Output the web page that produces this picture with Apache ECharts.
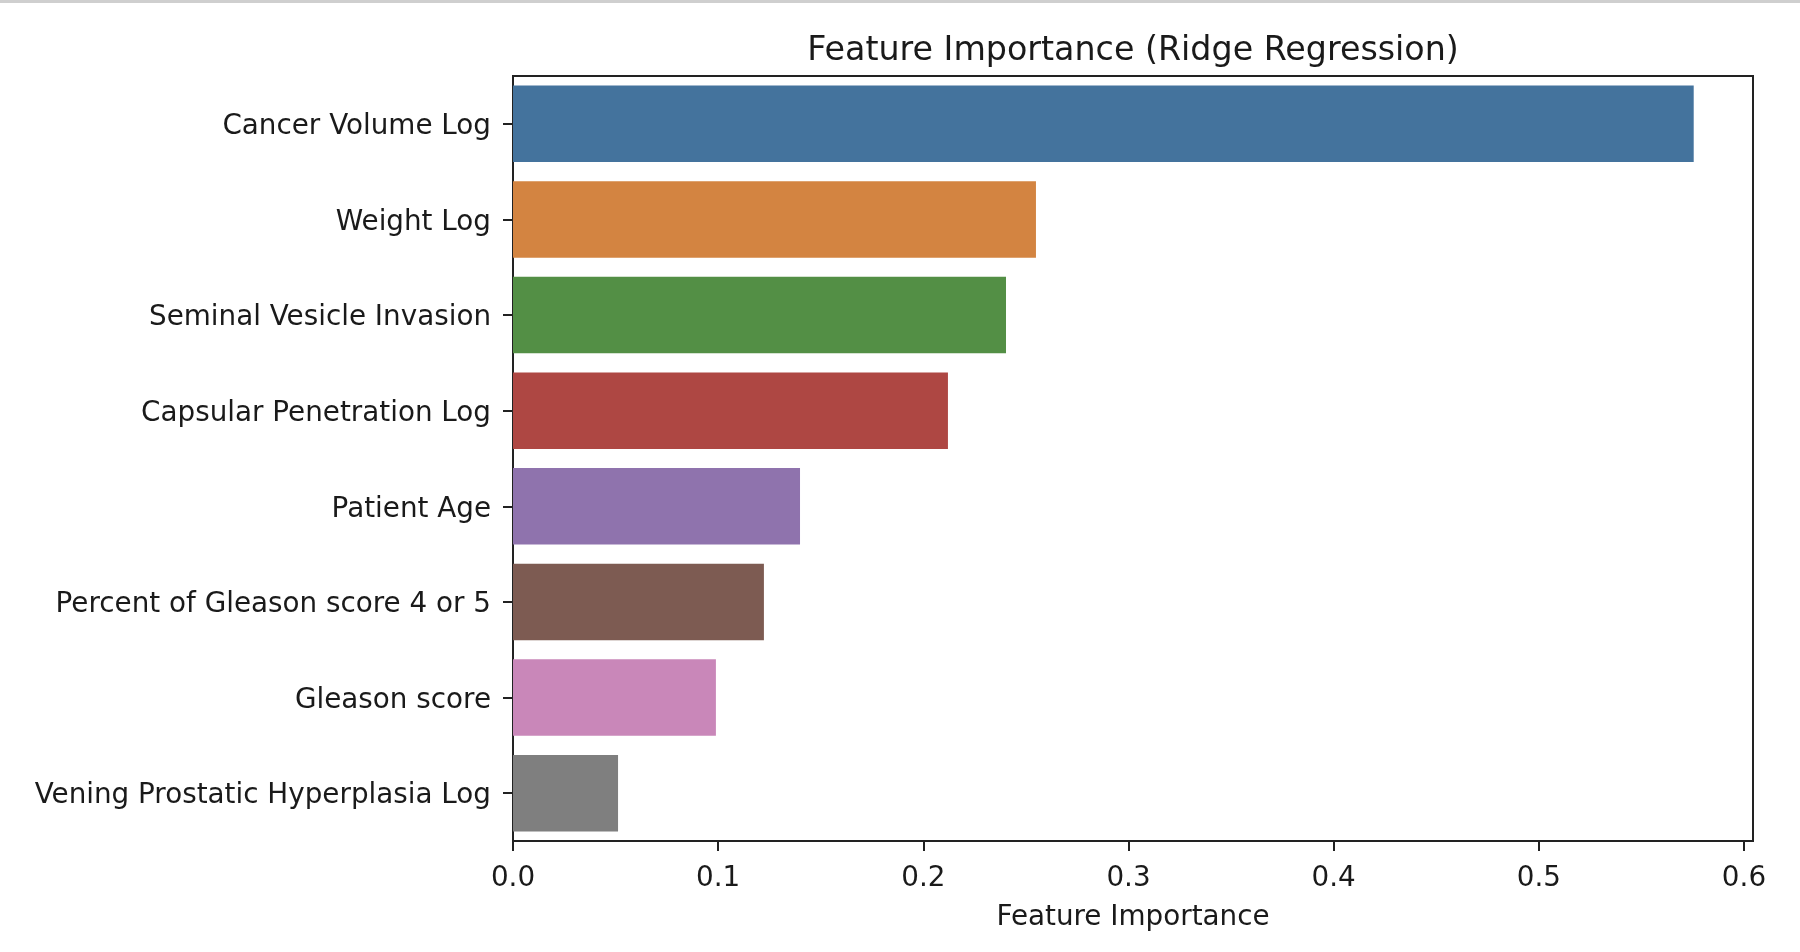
<!DOCTYPE html>
<html lang="en">
<head>
    <meta charset="UTF-8">
    <title>Feature Importance (Ridge Regression)</title>
    <script type="text/javascript" src="https://cdn.jsdelivr.net/npm/echarts@6/dist/echarts.min.js"></script>
    <style>
        html, body { margin: 0; padding: 0; background: #fff; }
        #container { width: 1800px; height: 952px; }
    </style>
</head>
<body>
<div id="container"></div>
<script type="text/javascript">
    // feature names, top to bottom
    var features = [
        'Cancer Volume Log',
        'Weight Log',
        'Seminal Vesicle Invasion',
        'Capsular Penetration Log',
        'Patient Age',
        'Percent of Gleason score 4 or 5',
        'Gleason score',
        'Vening Prostatic Hyperplasia Log'
    ];
    var importance = [0.5755, 0.2549, 0.2403, 0.2120, 0.1399, 0.1223, 0.0989, 0.0512];
    var barColors = ['#44739d', '#d38441', '#538f45', '#ae4743', '#8f73ad', '#7d5b52', '#c987b9', '#7f7f7f'];
    var xTicks = [0, 0.1, 0.2, 0.3, 0.4, 0.5, 0.6];

    var font = 'DejaVu Sans';
    var ink = '#1a1a1a';

    var myChart = echarts.init(document.getElementById('container'));
    var option = {
        animation: false,
        graphic: [{
            type: 'rect',
            shape: { x: 0, y: 0, width: 1800, height: 3 },
            style: { fill: '#cfcfcf' }
        }],
        title: {
            text: 'Feature Importance (Ridge Regression)',
            left: 1133,
            top: 35,
            padding: 0,
            textAlign: 'center',
            textStyle: { fontFamily: font, fontSize: 33.3, fontWeight: 'normal', color: ink }
        },
        grid: {
            left: 513,
            right: 47,
            top: 76,
            bottom: 111,
            show: true,
            borderColor: '#222',
            borderWidth: 2,
            containLabel: false
        },
        xAxis: {
            type: 'value',
            min: 0,
            max: 0.6044,
            interval: 0.1,
            name: 'Feature Importance',
            nameLocation: 'middle',
            nameGap: 63,
            nameTextStyle: { fontFamily: font, fontSize: 27.8, color: ink },
            splitLine: { show: false },
            axisLine: { show: true, lineStyle: { color: '#222', width: 2 } },
            axisTick: { show: true, length: 10, lineStyle: { color: '#222', width: 2 } },
            axisLabel: {
                margin: 24,
                fontFamily: font,
                fontSize: 27.8,
                color: ink,
                showMaxLabel: false,
                formatter: function (v) {
                    for (var i = 0; i < xTicks.length; i++) {
                        if (Math.abs(v - xTicks[i]) < 1e-9) return xTicks[i].toFixed(1);
                    }
                    return '';
                }
            }
        },
        yAxis: {
            type: 'category',
            inverse: true,
            data: features,
            axisLine: { show: true, lineStyle: { color: '#222', width: 2 } },
            axisTick: { show: true, length: 10, alignWithLabel: true, lineStyle: { color: '#222', width: 2 } },
            axisLabel: {
                margin: 22,
                verticalAlign: 'top',
                lineHeight: 6,
                fontFamily: font,
                fontSize: 27.8,
                color: ink
            }
        },
        series: [{
            type: 'bar',
            barCategoryGap: '20%',
            data: importance.map(function (v, i) {
                return { value: v, itemStyle: { color: barColors[i] } };
            })
        }]
    };
    myChart.setOption(option);
</script>
</body>
</html>
